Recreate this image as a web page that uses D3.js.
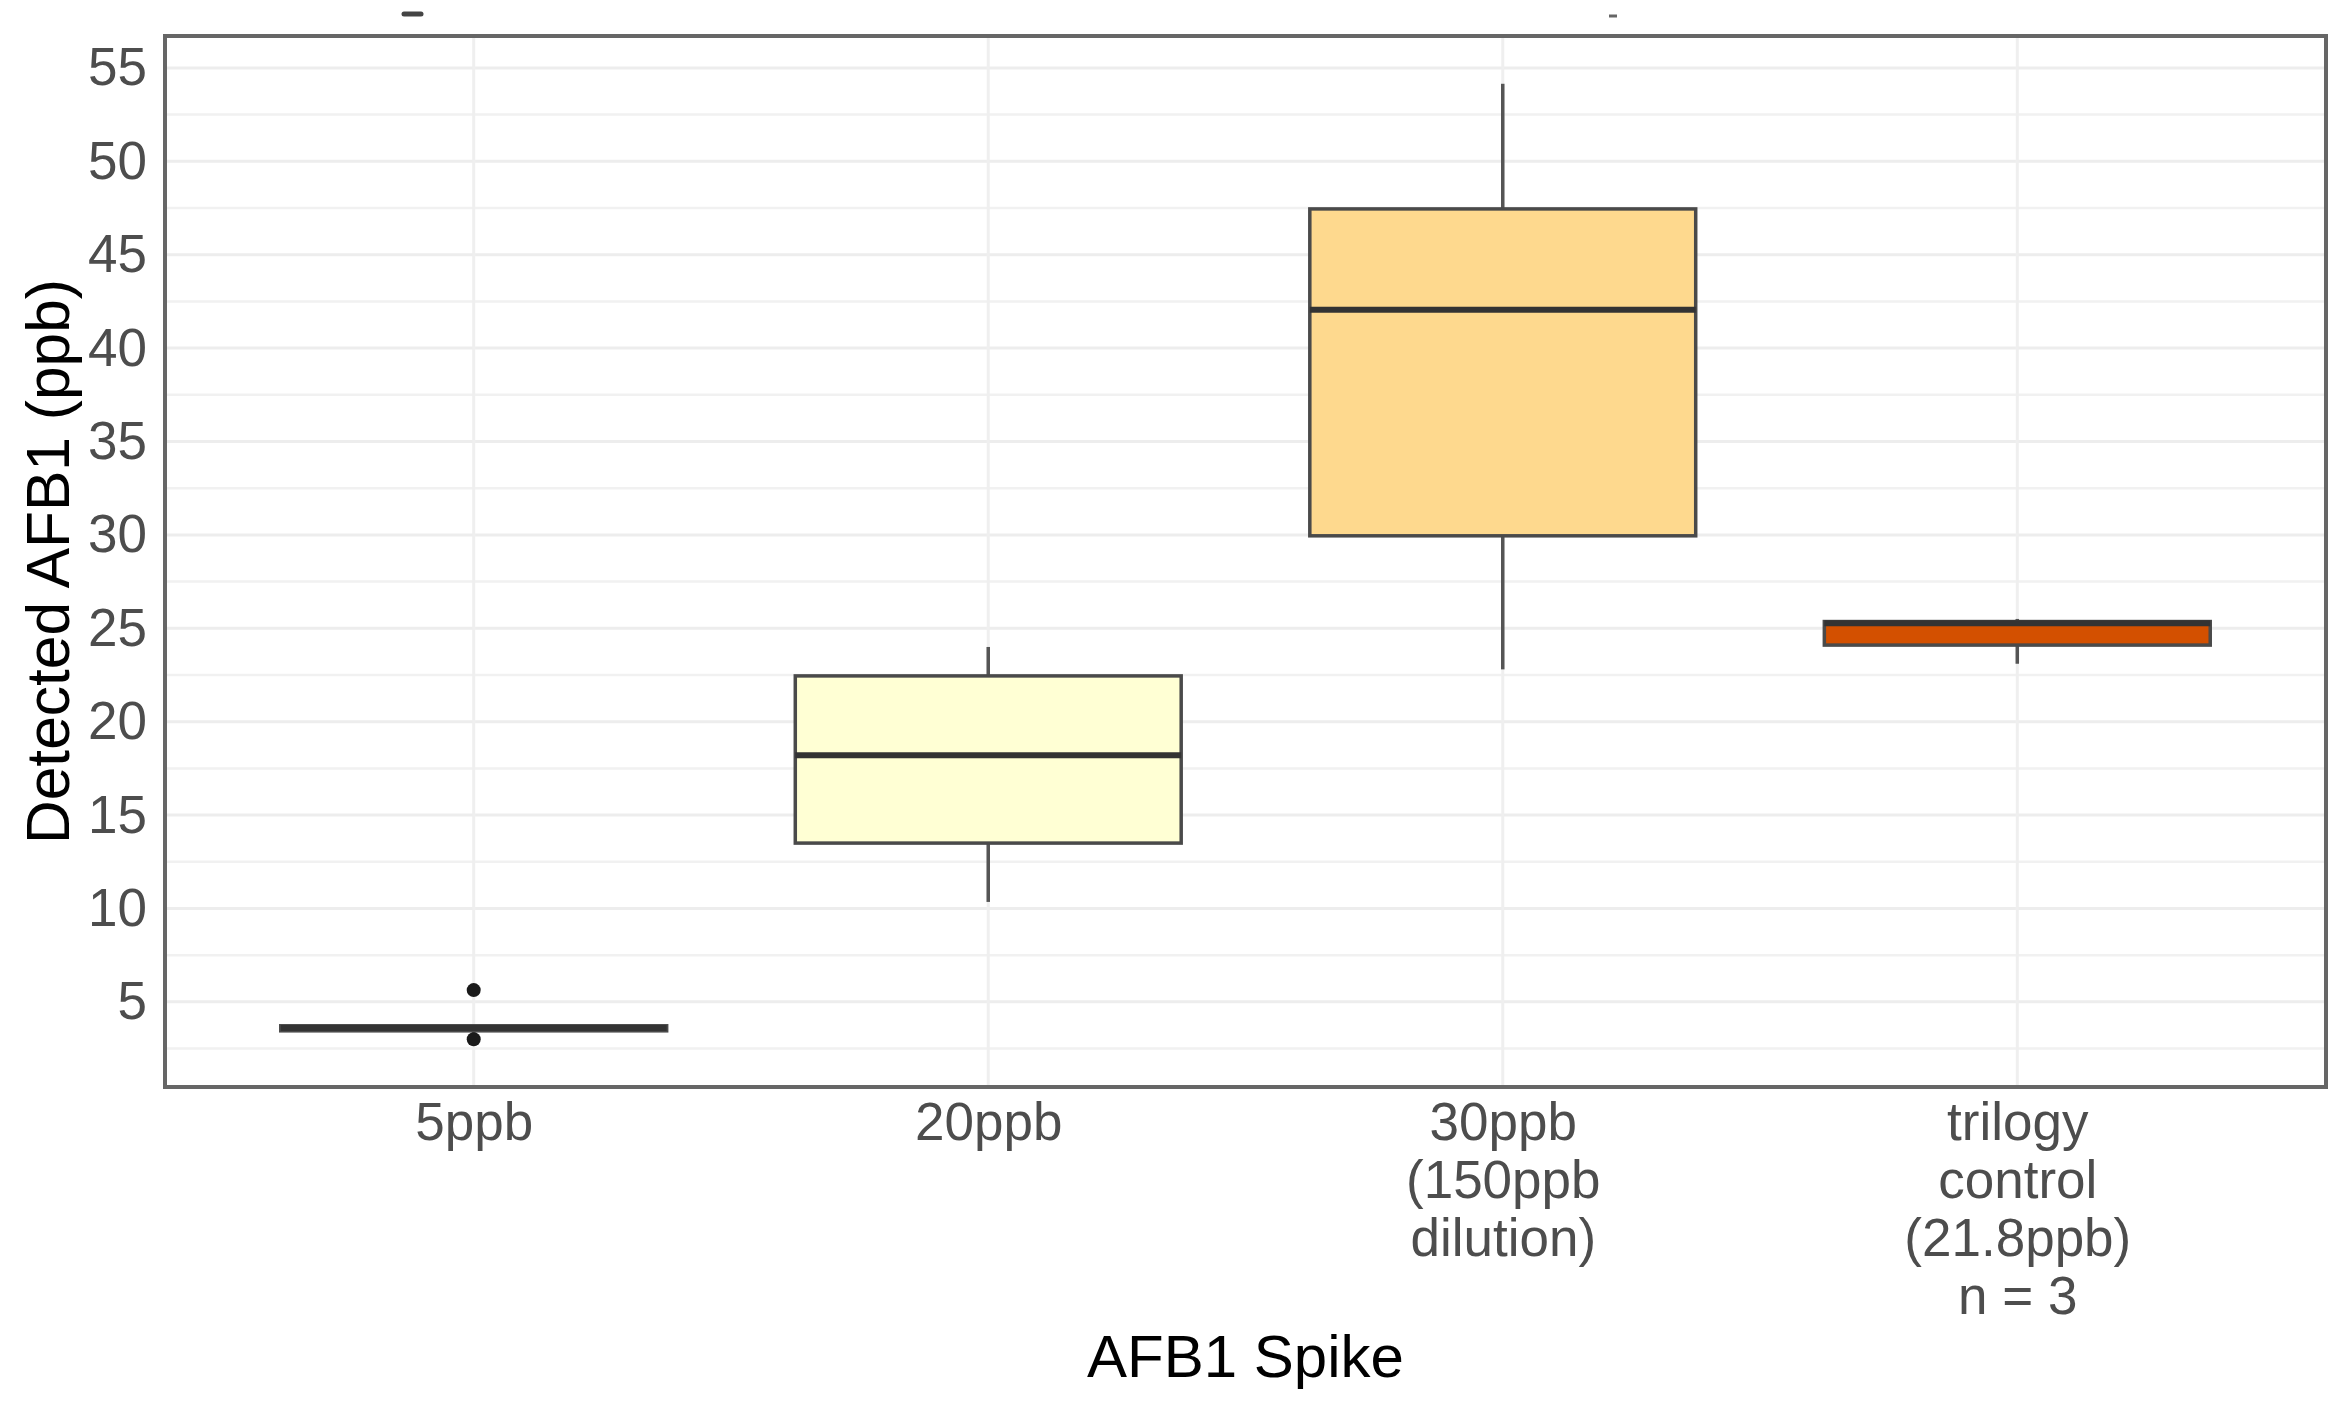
<!DOCTYPE html>
<html>
<head>
<meta charset="utf-8">
<script src="https://cdn.jsdelivr.net/npm/d3@7"></script>
<style>
  body { margin: 0; background: #fff; }
  text { font-family: "Liberation Sans", Arial, sans-serif; }
</style>
</head>
<body>
<div class="box-chart-container"></div>
<script>
// categories on the x axis (one label line per array item)
const categories = ['5ppb', '20ppb', '30ppb', 'trilogy'];
const categoryLabels = [
    ['5ppb'],
    ['20ppb'],
    ['30ppb', '(150ppb', 'dilution)'],
    ['trilogy', 'control', '(21.8ppb)', 'n = 3']
];
// box statistics (ppb)
const lowerWhisker = [3.05, 10.35, 22.8, 23.1];
const q1Values = [3.45, 13.5, 29.95, 24.1];
const medianValues = [3.6, 18.2, 42.05, 25.27];
const q3Values = [3.72, 22.45, 47.45, 25.36];
const upperWhisker = [3.72, 24.0, 54.15, 25.5];
const outlierValues = [[5.63, 3.0], [], [], []];
const boxFills = ['#ffffff', '#ffffd4', '#fed98e', '#d35000'];
// y axis ticks
const yTicks = [5, 10, 15, 20, 25, 30, 35, 40, 45, 50, 55];
const yMinorTicks = [2.5, 7.5, 12.5, 17.5, 22.5, 27.5, 32.5, 37.5, 42.5, 47.5, 52.5];

const boxData = categories.map((c, i) => ({
    cat: c,
    lo: lowerWhisker[i], q1: q1Values[i], med: medianValues[i],
    q3: q3Values[i], hi: upperWhisker[i], out: outlierValues[i], fill: boxFills[i]
}));

function setupCanvas(data) {
    const svg_width = 2348;
    const svg_height = 1409;
    const panel = { left: 165, right: 2326, top: 36, bottom: 1087 };

    const svg = d3.select('.box-chart-container').append('svg')
        .attr('width', svg_width).attr('height', svg_height);

    // ggplot-like 5% expansion around the data range
    const allVals = data.flatMap(d => [d.lo, d.hi, ...d.out]);
    const yMin = d3.min(allVals), yMax = d3.max(allVals);
    const pad = (yMax - yMin) * 0.05;
    const yScale = d3.scaleLinear().domain([yMin - pad, yMax + pad]).range([panel.bottom, panel.top]);
    const xScale = d3.scalePoint().domain(categories).range([panel.left, panel.right]).padding(0.6);
    const boxW = xScale.step() * 0.75;

    // grid
    const grid = svg.append('g').attr('class', 'grid');
    grid.selectAll('.minor').data(yMinorTicks).enter().append('line')
        .attr('x1', panel.left).attr('x2', panel.right)
        .attr('y1', d => yScale(d)).attr('y2', d => yScale(d))
        .attr('stroke', '#f1f1f1').attr('stroke-width', 2.5);
    grid.selectAll('.major').data(yTicks).enter().append('line')
        .attr('x1', panel.left).attr('x2', panel.right)
        .attr('y1', d => yScale(d)).attr('y2', d => yScale(d))
        .attr('stroke', '#ededed').attr('stroke-width', 3);
    grid.selectAll('.vmajor').data(categories).enter().append('line')
        .attr('x1', d => xScale(d)).attr('x2', d => xScale(d))
        .attr('y1', panel.top).attr('y2', panel.bottom)
        .attr('stroke', '#efefef').attr('stroke-width', 3);

    // boxes
    const boxes = svg.selectAll('.box').data(data).enter().append('g').attr('class', 'box');
    boxes.append('line')
        .attr('x1', d => xScale(d.cat)).attr('x2', d => xScale(d.cat))
        .attr('y1', d => yScale(d.hi)).attr('y2', d => yScale(d.q3))
        .attr('stroke', '#555').attr('stroke-width', 3.5);
    boxes.append('line')
        .attr('x1', d => xScale(d.cat)).attr('x2', d => xScale(d.cat))
        .attr('y1', d => yScale(d.q1)).attr('y2', d => yScale(d.lo))
        .attr('stroke', '#555').attr('stroke-width', 3.5);
    boxes.append('rect')
        .attr('x', d => xScale(d.cat) - boxW / 2).attr('width', boxW)
        .attr('y', d => yScale(d.q3)).attr('height', d => yScale(d.q1) - yScale(d.q3))
        .attr('fill', d => d.fill).attr('stroke', '#4a4a4a').attr('stroke-width', 3.5);
    boxes.append('line')
        .attr('x1', d => xScale(d.cat) - boxW / 2).attr('x2', d => xScale(d.cat) + boxW / 2)
        .attr('y1', d => yScale(d.med)).attr('y2', d => yScale(d.med))
        .attr('stroke', '#333').attr('stroke-width', 6);
    boxes.selectAll('.outlier').data(d => d.out.map(v => ({ cat: d.cat, v: v }))).enter()
        .append('circle')
        .attr('cx', d => xScale(d.cat)).attr('cy', d => yScale(d.v)).attr('r', 7)
        .attr('fill', '#1a1a1a');

    // panel border
    svg.append('rect')
        .attr('x', panel.left).attr('y', panel.top)
        .attr('width', panel.right - panel.left).attr('height', panel.bottom - panel.top)
        .attr('fill', 'none').attr('stroke', '#666').attr('stroke-width', 4);

    // y axis, no tick marks
    const yAxis = d3.axisLeft(yScale).tickValues(yTicks).tickSize(0).tickPadding(18);
    const yAxisDraw = svg.append('g').attr('transform', `translate(${panel.left},0)`).call(yAxis);
    yAxisDraw.select('.domain').remove();
    yAxisDraw.selectAll('text').attr('font-size', 53).attr('fill', '#4d4d4d')
        .attr('font-family', '"Liberation Sans", Arial, sans-serif');

    // x axis, multi-line labels
    const xAxis = d3.axisBottom(xScale).tickSize(0);
    const xAxisDraw = svg.append('g').attr('transform', `translate(0,${panel.bottom})`).call(xAxis);
    xAxisDraw.select('.domain').remove();
    xAxisDraw.selectAll('text').each(function (d, i) {
        const t = d3.select(this).text(null).attr('y', 0).attr('dy', null)
            .attr('font-size', 53).attr('fill', '#4d4d4d')
            .attr('font-family', '"Liberation Sans", Arial, sans-serif');
        categoryLabels[i].forEach((line, k) => {
            t.append('tspan').attr('x', 0).attr('y', 53 + k * 58).text(line);
        });
    });

    // axis titles
    svg.append('text')
        .attr('transform', `translate(69,${(panel.top + panel.bottom) / 2}) rotate(-90)`)
        .attr('text-anchor', 'middle').attr('font-size', 60.5).attr('fill', '#000')
        .text('Detected AFB1 (ppb)');
    svg.append('text')
        .attr('x', (panel.left + panel.right) / 2).attr('y', 1377)
        .attr('text-anchor', 'middle').attr('font-size', 60).attr('fill', '#000')
        .text('AFB1 Spike');

    // bits of a cropped title above the panel
    svg.append('line').attr('x1', 404).attr('x2', 421).attr('y1', 14).attr('y2', 14)
        .attr('stroke', '#444').attr('stroke-width', 5).attr('stroke-linecap', 'round');
    svg.append('line').attr('x1', 1609).attr('x2', 1617).attr('y1', 16).attr('y2', 16)
        .attr('stroke', '#666').attr('stroke-width', 3);
}

setupCanvas(boxData);
</script>
</body>
</html>
